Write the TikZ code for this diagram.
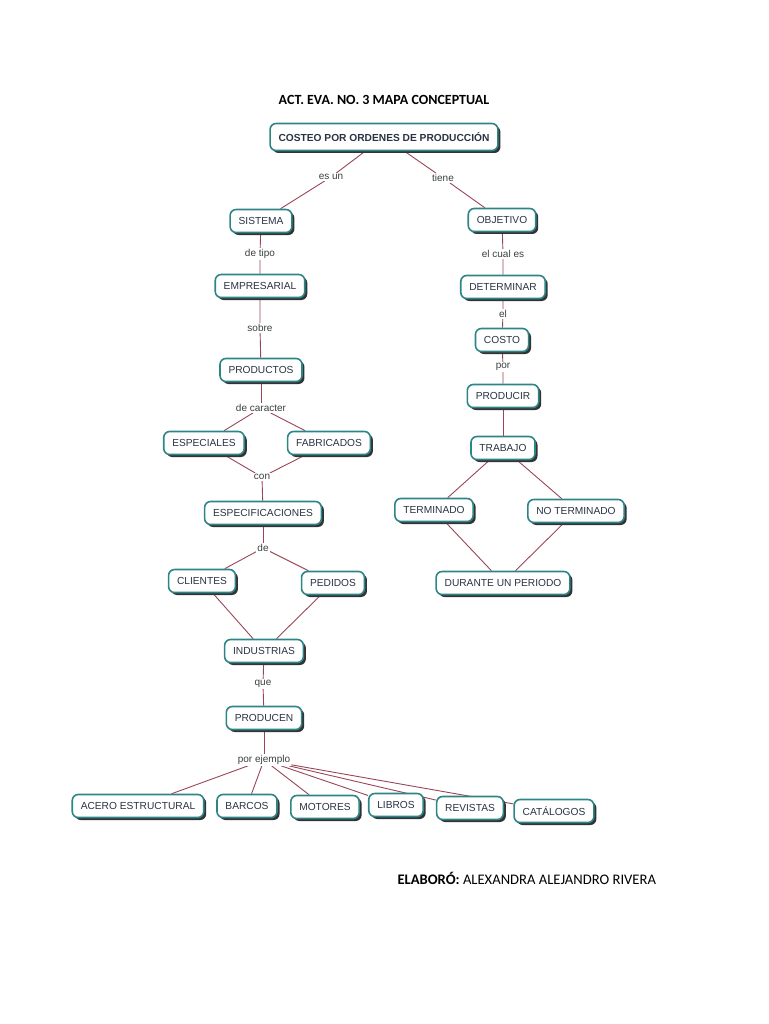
\documentclass[tikz,border=0pt]{standalone}
\usepackage{fontspec}
\setmainfont{Carlito}
\newfontfamily\mapfont{Liberation Sans}
\usepackage{xcolor}
\usepackage{tikz}
\usetikzlibrary{shadows,backgrounds}
\definecolor{boxTeal}{HTML}{2E8587}
\definecolor{linkRed}{HTML}{9A4557}
\definecolor{textNavy}{HTML}{2A3343}
\definecolor{phraseGray}{HTML}{3A4040}

\begin{document}
\begin{tikzpicture}[
    x=1pt,y=-1pt,
    concept/.style={rounded corners=6pt,draw=boxTeal,line width=1.6pt,fill=white,
      font=\mapfont\fontsize{10.2}{12}\selectfont,text=textNavy,
      inner xsep=8.5pt,minimum height=23pt,
      drop shadow={shadow xshift=2.5pt,shadow yshift=-2.5pt,fill=black!80,opacity=1}},
    phrase/.style={font=\mapfont\fontsize{10}{12}\selectfont,text=phraseGray,fill=white,inner sep=1pt},
    link/.style={linkRed,line width=0.9pt}
  ]
  \useasboundingbox (0,0) rectangle (768,1024);
  %% Title and author
  \node[font=\bfseries\fontsize{14}{16}\selectfont] (title) at (384,100) {ACT. EVA. NO. 3 MAPA CONCEPTUAL};
  \node[anchor=west,font=\fontsize{14.6}{16}\selectfont] (author) at (394,878) {\textbf{ELABORÓ:} ALEXANDRA ALEJANDRO RIVERA};
  %% Root
  \node[concept,font=\mapfont\bfseries\fontsize{10.2}{12}\selectfont,minimum height=27pt] (costeo) at (384,137) {COSTEO POR ORDENES DE PRODUCCIÓN};
  \node[phrase] (esun)  at (331,177) {es un};
  \node[phrase] (tiene) at (443,178) {tiene};
  %% Left branch
  \node[concept] (sistema)     at (261,221) {SISTEMA};
  \node[phrase]  (detipo)      at (260,254) {de tipo};
  \node[concept] (empresarial) at (260,286) {EMPRESARIAL};
  \node[phrase]  (sobre)       at (260,328) {sobre};
  \node[concept] (productos)   at (261,370) {PRODUCTOS};
  \node[phrase]  (decaracter)  at (261,408) {de caracter};
  \node[concept] (especiales)  at (204,443) {ESPECIALES};
  \node[concept] (fabricados)  at (329,443) {FABRICADOS};
  \node[phrase]  (con)         at (262,477) {con};
  \node[concept] (especif)     at (263,513) {ESPECIFICACIONES};
  \node[phrase]  (de)          at (263,548) {de};
  \node[concept] (clientes)    at (202,581) {CLIENTES};
  \node[concept] (pedidos)     at (333,583) {PEDIDOS};
  \node[concept] (industrias)  at (264,651) {INDUSTRIAS};
  \node[phrase]  (que)         at (263,684) {que};
  \node[concept] (producen)    at (264,718) {PRODUCEN};
  \node[phrase]  (porejemplo)  at (264,760) {por ejemplo};
  %% Examples row
  \node[concept] (acero)     at (138,806) {ACERO ESTRUCTURAL};
  \node[concept] (barcos)    at (247,806) {BARCOS};
  \node[concept] (motores)   at (325,807) {MOTORES};
  \node[concept] (libros)    at (396,805) {LIBROS};
  \node[concept] (revistas)  at (470,808) {REVISTAS};
  \node[concept] (catalogos) at (554,811) {CATÁLOGOS};
  %% Right branch
  \node[concept] (objetivo)   at (502,220) {OBJETIVO};
  \node[phrase]  (elcuales)   at (503,254) {el cual es};
  \node[concept] (determinar) at (503,287) {DETERMINAR};
  \node[phrase]  (el)         at (503,314) {el};
  \node[concept] (costo)      at (502,340) {COSTO};
  \node[phrase]  (por)        at (503,367) {por};
  \node[concept] (producir)   at (503,396) {PRODUCIR};
  \node[concept] (trabajo)    at (503,448) {TRABAJO};
  \node[concept] (terminado)  at (434,510) {TERMINADO};
  \node[concept] (noterm)     at (576,511) {NO TERMINADO};
  \node[concept] (durante)    at (503,583) {DURANTE UN PERIODO};
  %% Links
  \begin{scope}[on background layer]
    \draw[link] (costeo) -- (esun) -- (sistema);
    \draw[link] (costeo) -- (tiene) -- (objetivo);
    \draw[link] (sistema) -- (detipo) -- (empresarial);
    \draw[link] (empresarial) -- (sobre) -- (productos);
    \draw[link] (productos) -- (decaracter);
    \draw[link] (decaracter) -- (especiales);
    \draw[link] (decaracter) -- (fabricados);
    \draw[link] (especiales) -- (con);
    \draw[link] (fabricados) -- (con);
    \draw[link] (con) -- (especif);
    \draw[link] (especif) -- (de);
    \draw[link] (de) -- (clientes);
    \draw[link] (de) -- (pedidos);
    \draw[link] (clientes) -- (industrias);
    \draw[link] (pedidos) -- (industrias);
    \draw[link] (industrias) -- (que) -- (producen);
    \draw[link] (producen) -- (porejemplo);
    \foreach \ex in {acero,barcos,motores,libros,revistas,catalogos}
      \draw[link] (porejemplo) -- (\ex);
    \draw[link] (objetivo) -- (elcuales) -- (determinar);
    \draw[link] (determinar) -- (el) -- (costo);
    \draw[link] (costo) -- (por) -- (producir);
    \draw[link] (producir) -- (trabajo);
    \draw[link] (trabajo) -- (terminado);
    \draw[link] (trabajo) -- (noterm);
    \draw[link] (terminado) -- (durante);
    \draw[link] (noterm) -- (durante);
  \end{scope}
\end{tikzpicture}
\end{document}
